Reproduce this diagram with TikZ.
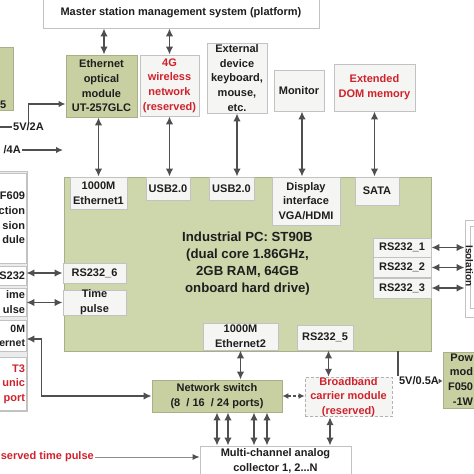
\documentclass[tikz,border=0pt]{standalone}
\usepackage{fontspec}
\setmainfont{Liberation Sans}
\usetikzlibrary{arrows.meta,calc}
\definecolor{pcgreen}{HTML}{CED6AB}
\definecolor{modgreen}{HTML}{C8D0A2}
\definecolor{greenedge}{HTML}{A7B088}
\definecolor{cellfill}{HTML}{F5F5F3}
\definecolor{celledge}{HTML}{C2C2C2}
\definecolor{redtxt}{HTML}{D0222C}
\definecolor{arrgray}{HTML}{4F4F4F}
\definecolor{txtdark}{HTML}{1E1E1E}
\begin{document}
\begin{tikzpicture}[x=1pt,y=-1pt,
  every node/.style={font=\fontsize{11}{14.7}\selectfont\bfseries, text=txtdark, inner sep=0pt, align=center},
  sz/.style 2 args={minimum width=#1, minimum height=#2},
  cell/.style={draw=celledge, fill=cellfill, line width=0.8pt},
  wbox/.style={draw=celledge, fill=white, line width=0.8pt},
  gbox/.style={draw=greenedge, fill=modgreen, line width=0.8pt},
  lcell/.style={draw=celledge, fill=white, line width=0.8pt, text width=44, align=right},
  redtext/.style={text=redtxt},
  arr/.style={draw=arrgray, line width=1.6pt, {Latex[length=8pt,width=7.5pt]}-{Latex[length=8pt,width=7.5pt]}},
  sarr/.style={draw=arrgray, line width=1.4pt, -{Latex[length=7pt,width=6.5pt]}},
  plain/.style={draw=arrgray, line width=1.4pt},
  lbl/.style={inner sep=1pt}
]
\useasboundingbox (0,0) rectangle (474,474);

% ---------- top row ----------
\node[wbox, sz={276}{30}] (master) at (181,13) {Master station management system (platform)};
\node[gbox, sz={71}{62}] (eom) at (101.5,86) {Ethernet\\optical\\module\\UT-257GLC};
\node[cell, redtext, sz={59}{61}] (g4) at (169.5,85.5) {4G\\wireless\\network\\(reserved)};
\node[cell, sz={60}{70}] (ext) at (237,78) {External\\device\\keyboard,\\mouse,\\etc.};
\node[cell, sz={50}{41}] (mon) at (299,90.5) {Monitor};
\node[cell, redtext, sz={81}{47}] (dom) at (374.5,87.5) {Extended\\DOM memory};

% ---------- top left power ----------
\node[gbox, sz={40}{63}] (lpw) at (-7,78.5) {};
\node[anchor=east] (t5) at (6.5,105) {5};
\node[lbl] (v52) at (28.5,127) {5V/2A};
\coordinate (p52) at (-2,127);
\draw[plain] (p52) -- (v52.west);
\draw[sarr] (v52.north) |- ($(eom.west)+(0,18)$);
\node[lbl, anchor=east] (v4) at (22,150) {/4A};
\coordinate (a4) at (63,150);
\draw[sarr] (v4.east) -- (a4);

% ---------- industrial PC ----------
\node[draw=greenedge, fill=pcgreen, line width=0.8pt, sz={367}{174},
      font=\fontsize{13.2}{17}\selectfont\bfseries] (pc) at (247.5,264)
      {Industrial PC: ST90B\\(dual core 1.86GHz,\\2GB RAM, 64GB\\onboard hard drive)};
\node[cell, sz={57}{32}] (eth1) at (98.5,193) {1000M\\Ethernet1};
\node[cell, sz={44}{23}] (usb1) at (168,188.5) {USB2.0};
\node[cell, sz={45}{23}] (usb2) at (231.5,188.5) {USB2.0};
\node[cell, sz={68}{48}] (disp) at (306,201) {Display\\interface\\VGA/HDMI};
\node[cell, sz={44}{28}] (sata) at (377,191) {SATA};
\node[cell, sz={63}{20}] (rs6) at (94.5,273) {RS232\_6};
\node[cell, sz={63}{21}] (tp) at (94.5,302.5) {Time\\pulse};
\node[cell, sz={58}{19}] (rs1) at (402,247.5) {RS232\_1};
\node[cell, sz={58}{20}] (rs2) at (402,267.5) {RS232\_2};
\node[cell, sz={58}{20}] (rs3) at (402,288) {RS232\_3};
\node[cell, sz={75}{27}] (eth2) at (240.5,336.5) {1000M\\Ethernet2};
\node[cell, sz={56}{25}] (rs5) at (325,337.5) {RS232\_5};

% ---------- left device ----------
\node[draw=celledge, fill=black!8, line width=0.8pt, sz={50}{240}] (lfr) at (2,291) {};
\node[lcell, sz={46}{90}] (lf) at (3,218) {F609\\ction\\sion\\dule};
\node[lcell, sz={46}{19}] (lrs) at (3,275.5) {S232};
\node[lcell, sz={46}{28}] (ltp) at (3,302) {ime\\ulse};
\node[lcell, sz={46}{31}, font=\fontsize{10.5}{14.7}\selectfont\bfseries] (leth) at (3,336) {0M\\ernet};
\node[lcell, redtext, sz={46}{53}] (lred) at (3,384) {T3\\unic\\port};

% ---------- right side ----------
\node[cell, fill=white, sz={30}{97}] (iso) at (480,268.5) {};
\node[cell, fill=white, sz={30}{82}] (isoin) at (485,267) {};
\node[rotate=-90, anchor=north, font=\fontsize{10}{12}\selectfont\bfseries] (isot) at (473.3,266) {Isolation};
\node[gbox, sz={47}{56}] (pw) at (466.5,380) {};
\node[anchor=east, text width=27, align=right] (pwt) at (473.3,379.5) {Pow\\mod\\F050\\-1W};

% ---------- lower part ----------
\node[gbox, sz={130}{32}] (sw) at (217,396) {Network switch\\(8~ / 16~ / 24 ports)};
\node[draw=black!30, dashed, dash pattern=on 3pt off 2pt, fill=cellfill, line width=0.8pt, redtext, sz={87}{38}] (bb) at (348.5,397) {Broadband\\carrier module\\(reserved)};
\node[wbox, sz={151}{30}] (coll) at (275.5,461) {Multi-channel analog\\collector 1, 2...N};
\node[lbl] (v05) at (419,381) {5V/0.5A};
\node[lbl, redtext, anchor=east] (rtp) at (95,457) {served time pulse};

% ---------- connectors ----------
\draw[arr] ($(eom.north)+(2.5,0)$) coordinate (c1) -- (c1 |- master.south);
\draw[arr] (g4.north) -- (g4.north |- master.south);
\draw[arr] (eth1.north) -- (eth1.north |- eom.south);
\draw[arr] (g4.south) -- (g4.south |- usb1.north);
\draw[arr] (ext.south) -- (ext.south |- usb2.north);
\draw[arr] ($(mon.south)+(3,0)$) coordinate (c2) -- (c2 |- disp.north);
\draw[arr] (dom.south) -- (dom.south |- sata.north);
\draw[arr] (rs6.west) -- (rs6.west -| lrs.east);
\draw[arr] (tp.west) -- (tp.west -| ltp.east);
\draw[arr] (rs1.east) -- (rs1.east -| iso.west);
\draw[arr] (rs2.east) -- (rs2.east -| iso.west);
\draw[arr] (rs3.east) -- (rs3.east -| iso.west);
\draw[arr] ($(leth.east)+(0,3)$) -- ++(15,0) |- (sw.west);
\draw[arr] (eth2.south) -- (eth2.south |- sw.north);
\draw[arr] ($(rs5.south)+(3.5,0)$) coordinate (c3) -- (c3 |- bb.north);
\draw[arr] ($(bb.south)+(-18.5,0)$) coordinate (c4) -- (c4 |- coll.north);
\draw[arr] (sw.south) -- (sw.south |- coll.north);
\draw[arr] ($(sw.south)+(11,0)$) coordinate (c5) -- (c5 |- coll.north);
\draw[arr] ($(sw.south)+(37,0)$) coordinate (c6) -- (c6 |- coll.north);
\draw[arr] ($(sw.south)+(50,0)$) coordinate (c7) -- (c7 |- coll.north);
\draw[draw=arrgray, line width=1.2pt, dash pattern=on 3pt off 2pt,
      {Latex[length=6pt,width=6pt]}-{Latex[length=6pt,width=6pt]}] (sw.east) -- (sw.east -| bb.west);
\draw[plain] (v05.north west) -- (v05.north west |- pc.south);
\draw[draw=arrgray, line width=1pt, -{Latex[length=4pt,width=5pt]}] (v05.east) -- (v05.east -| pw.west);
\draw[draw=black!45, line width=0.9pt, -{Latex[length=7pt,width=6pt,color=arrgray]}] (rtp.east) -- (rtp.east -| coll.west);
\end{tikzpicture}
\end{document}
